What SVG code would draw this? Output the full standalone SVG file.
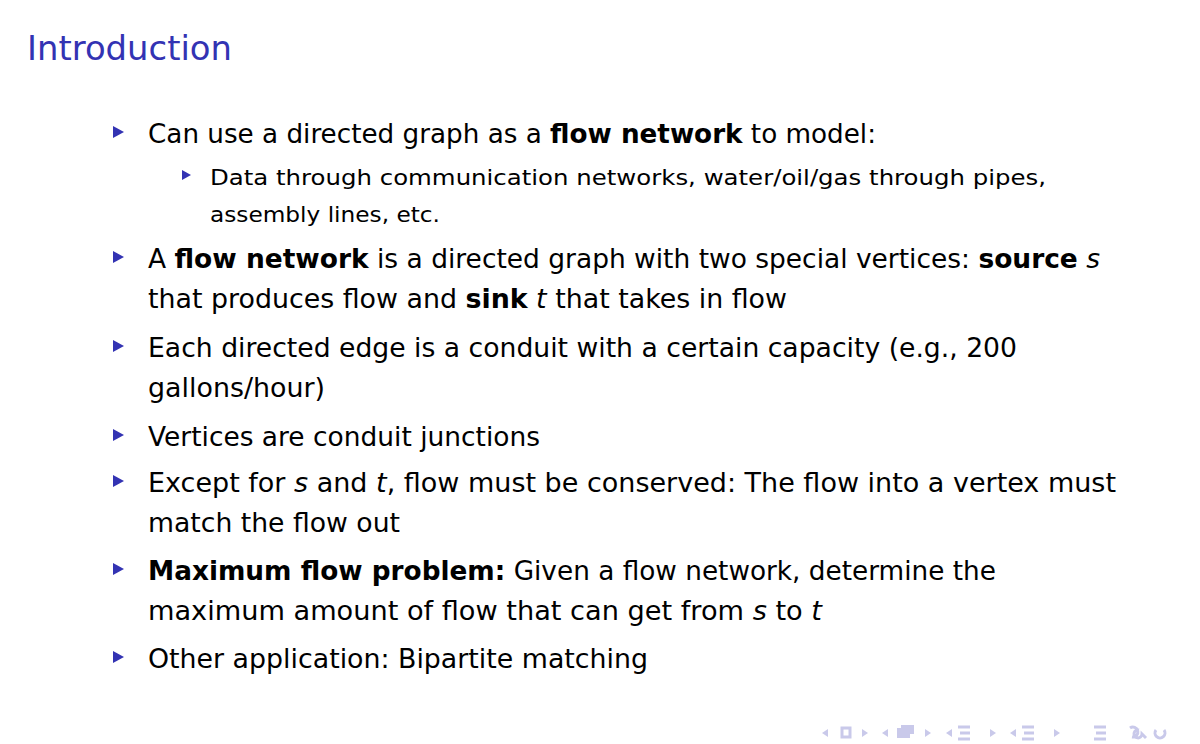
<svg xmlns="http://www.w3.org/2000/svg" width="1200" height="744" viewBox="0 0 1200 744">
<style>
.t{font-family:"DejaVu Sans","Liberation Sans",sans-serif;font-size:26px;fill:#000}
.s{font-family:"DejaVu Sans","Liberation Sans",sans-serif;font-size:22px;fill:#000}
.b{font-weight:bold}
.i{font-style:italic}
.bul{fill:#3333b3}
.nav{fill:#c9c9ea;stroke:none}
.navs{fill:none;stroke:#c9c9ea;stroke-width:3}
</style>
<rect width="1200" height="744" fill="#fff"/>
<text id="title" x="27" y="60" font-family="DejaVu Sans,Liberation Sans,sans-serif" font-size="33" fill="#3333b3" textLength="205" lengthAdjust="spacingAndGlyphs">Introduction</text>
<g id="bullets">
<path class="bul" d="M113,126 L124,132 L113,138Z"/>
<path class="bul" d="M182,170 L191,175 L182,180Z"/>
<path class="bul" d="M113,251 L124,257 L113,263Z"/>
<path class="bul" d="M113,340 L124,346 L113,352Z"/>
<path class="bul" d="M113,429 L124,435 L113,441Z"/>
<path class="bul" d="M113,475 L124,481 L113,487Z"/>
<path class="bul" d="M113,563 L124,569 L113,575Z"/>
<path class="bul" d="M113,651 L124,657 L113,663Z"/>
</g>
<g id="text">
<text class="t" x="148" y="143" textLength="728" lengthAdjust="spacingAndGlyphs">Can use a directed graph as a <tspan class="b">flow network</tspan> to model:</text>
<text class="s" x="210" y="185" textLength="836" lengthAdjust="spacingAndGlyphs">Data through communication networks, water/oil/gas through pipes,</text>
<text class="s" x="210" y="222" textLength="230" lengthAdjust="spacingAndGlyphs">assembly lines, etc.</text>
<text class="t" x="148" y="268" textLength="952" lengthAdjust="spacingAndGlyphs">A <tspan class="b">flow network</tspan> is a directed graph with two special vertices: <tspan class="b">source</tspan> <tspan class="i">s</tspan></text>
<text class="t" x="148" y="308" textLength="639" lengthAdjust="spacingAndGlyphs">that produces flow and <tspan class="b">sink</tspan> <tspan class="i">t</tspan> that takes in flow</text>
<text class="t" x="148" y="357" textLength="869" lengthAdjust="spacingAndGlyphs">Each directed edge is a conduit with a certain capacity (e.g., 200</text>
<text class="t" x="148" y="397" textLength="177" lengthAdjust="spacingAndGlyphs">gallons/hour)</text>
<text class="t" x="148" y="446" textLength="392" lengthAdjust="spacingAndGlyphs">Vertices are conduit junctions</text>
<text class="t" x="148" y="492" textLength="968" lengthAdjust="spacingAndGlyphs">Except for <tspan class="i">s</tspan> and <tspan class="i">t</tspan>, flow must be conserved: The flow into a vertex must</text>
<text class="t" x="148" y="532" textLength="252" lengthAdjust="spacingAndGlyphs">match the flow out</text>
<text class="t" x="148" y="580" textLength="848" lengthAdjust="spacingAndGlyphs"><tspan class="b">Maximum flow problem:</tspan> Given a flow network, determine the</text>
<text class="t" x="148" y="620" textLength="674" lengthAdjust="spacingAndGlyphs">maximum amount of flow that can get from <tspan class="i">s</tspan> to <tspan class="i">t</tspan></text>
<text class="t" x="148" y="668" textLength="500" lengthAdjust="spacingAndGlyphs">Other application: Bipartite matching</text>
</g>
<g id="nav">
<path class="nav" d="M828,729 L822,733 L828,737Z"/>
<rect x="842" y="728" width="8" height="9" class="navs" stroke-width="2"/>
<path class="nav" d="M862,729 L868,733 L862,737Z"/>
<path class="nav" d="M888,729 L882,733 L888,737Z"/>
<rect x="897" y="728" width="13" height="10" class="nav"/>
<rect x="901" y="725" width="13" height="9" class="nav"/>
<path class="nav" d="M925,729 L931,733 L925,737Z"/>
<path class="nav" d="M952,729 L946,733 L952,737Z"/>
<path class="navs" stroke-width="2" d="M958,727h12M960,733h10M958,739h12"/>
<path class="nav" d="M990,729 L996,733 L990,737Z"/>
<path class="nav" d="M1016,729 L1010,733 L1016,737Z"/>
<path class="navs" stroke-width="2" d="M1022,727h12M1024,733h10M1022,739h12"/>
<path class="nav" d="M1054,729 L1060,733 L1054,737Z"/>
<path class="navs" stroke-width="2" d="M1094,727h12M1096,733h10M1094,739h12"/>
<path class="navs" stroke-width="2" d="M1130,728 a5,5 0 1 1 2,9M1139,730 a4,4 0 1 0 3,4 l4,4M1156,730 a5,5 0 1 0 8,0"/>
</g>
</svg>
